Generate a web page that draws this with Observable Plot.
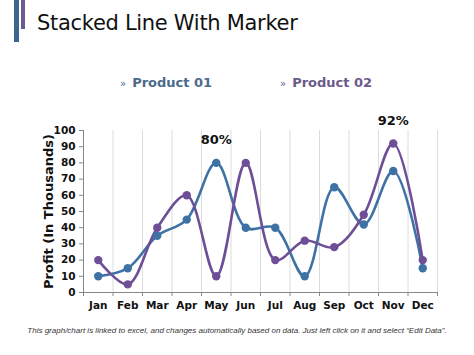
<!DOCTYPE html>
<html><head><meta charset="utf-8">
<script src="https://cdn.jsdelivr.net/npm/d3@7"></script>
<script src="https://cdn.jsdelivr.net/npm/@observablehq/plot@0.6"></script>
<style>
body{margin:0;background:#fff;width:474px;height:355px;position:relative;overflow:hidden;font-family:"Liberation Sans",Arial,sans-serif;}
.bar{position:absolute;top:0}
#title{position:absolute;left:37px;top:11px;font-family:"DejaVu Sans",sans-serif;font-size:21px;color:#111;letter-spacing:-0.3px;}
.leg{position:absolute;top:75px;font-family:"DejaVu Sans",sans-serif;font-weight:bold;font-size:13px;}
.leg span{font-weight:normal;font-size:10px;margin-right:6px;}
#foot{position:absolute;left:0;width:474px;top:326px;text-align:center;font-style:italic;font-size:8px;color:#333;}
#chart{position:absolute;left:0;top:110px;}
</style></head><body>
<div class="bar" style="left:14px;width:5px;height:42px;background:#3d6590"></div>
<div class="bar" style="left:21px;width:4px;height:29px;background:#6a5a9a"></div>
<div id="title">Stacked Line With Marker</div>
<div class="leg" style="left:120px;color:#4b6a8c"><span>»</span>Product 01</div>
<div class="leg" style="left:280px;color:#6b5a8a"><span>»</span>Product 02</div>
<div id="chart"></div>
<div id="foot">This graph/chart is linked to excel, and changes automatically based on data. Just left click on it and select “Edit Data”.</div>
<script>
const months = ["Jan","Feb","Mar","Apr","May","Jun","Jul","Aug","Sep","Oct","Nov","Dec"];
const product01 = [10,15,35,45,80,40,40,10,65,42,75,15];
const product02 = [20,5,40,60,10,80,20,32,28,48,92,20];
const yTicks = [0,10,20,30,40,50,60,70,80,90,100];
const annotations = [{month:"May", value:80, label:"80%"},{month:"Nov", value:92, label:"92%"}];

const blue = "#3e72a4", purple = "#6e4f97";
const d1 = months.map((m,i)=>({x:i+0.5, v:product01[i]}));
const d2 = months.map((m,i)=>({x:i+0.5, v:product02[i]}));
const ann = annotations.map(a=>({x:months.indexOf(a.month)+0.5, v:a.value, label:a.label}));
const bounds = d3.range(0,13);

const plot = Plot.plot({
  width:474, height:215,
  marginLeft:83, marginRight:37, marginTop:20, marginBottom:33,
  x:{type:"linear", domain:[0,12]},
  y:{domain:[0,100]},
  style:{fontFamily:"DejaVu Sans, sans-serif", background:"transparent", overflow:"visible"},
  marks:[
    Plot.ruleX(bounds.slice(1), {stroke:"#dcdcdc", strokeWidth:1}),
    Plot.ruleX([0], {stroke:"#888"}),
    Plot.ruleY([0], {stroke:"#888"}),
    Plot.axisX(months.map((m,i)=>i+0.5), {tickSize:0, tickPadding:9, tickFormat:d=>months[Math.floor(d)], fontWeight:"bold", fontSize:10.5, fill:"#111", label:null}),
    Plot.axisX(bounds, {tickSize:4, tickFormat:()=>"", stroke:"#888", label:null}),
    Plot.axisY(yTicks, {tickSize:4, tickPadding:4, fontWeight:"bold", fontSize:10.5, fill:"#111", stroke:"#888", label:null}),
    Plot.line(d1, {x:"x", y:"v", stroke:blue, strokeWidth:2.6, curve:"catmull-rom"}),
    Plot.line(d2, {x:"x", y:"v", stroke:purple, strokeWidth:2.6, curve:"catmull-rom"}),
    Plot.dot(d1, {x:"x", y:"v", fill:blue, r:4.2}),
    Plot.dot(d2, {x:"x", y:"v", fill:purple, r:4.2}),
    Plot.text(ann, {x:"x", y:"v", text:"label", dy:-23, fontSize:13, fontWeight:"bold", fill:"#111"}),
    Plot.text(["Profit (In Thousands)"], {frameAnchor:"left", dx:-35, rotate:-90, textAnchor:"middle", fontSize:13, fontWeight:"bold", fill:"#111"})
  ]
});
document.getElementById("chart").appendChild(plot);
</script>
</body></html>
